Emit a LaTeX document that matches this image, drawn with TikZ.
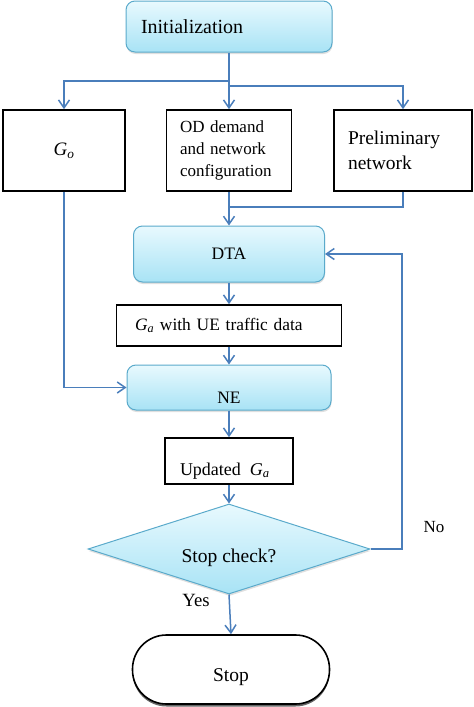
\documentclass[tikz,border=0pt]{standalone}
\usepackage{fontspec}
\setmainfont{Liberation Serif}
\usetikzlibrary{arrows.meta,shapes.geometric,shadows}
\definecolor{lineblue}{HTML}{4A7EBB}
\definecolor{cyanborder}{HTML}{5AAACB}
\definecolor{cyantop}{HTML}{E8F9FE}
\definecolor{cyanbot}{HTML}{A8E3F5}
\newcommand{\Gsub}[1]{\textit{G}\textsubscript{\textit{#1}}}
\begin{document}
\begin{tikzpicture}[x=1pt,y=-1pt,
  cyanbox/.style={draw=cyanborder, line width=1pt, rounded corners=9pt, top color=cyantop, bottom color=cyanbot, inner sep=0pt,
    drop shadow={opacity=0.25, shadow xshift=0.5pt, shadow yshift=-2pt}},
  plainbox/.style={draw=black, line width=1.6pt, fill=white, inner sep=0pt},
  arr/.style={draw=lineblue, line width=1.5pt, -{Straight Barb[length=8pt,width=11pt]}},
  ln/.style={draw=lineblue, line width=1.5pt},
  lbl/.style={inner sep=0pt}]
\useasboundingbox (0,0) rectangle (474,707);
% nodes
\node[cyanbox, minimum width=206pt, minimum height=51pt, text width=176pt, align=left,
  font=\fontsize{20}{24}\selectfont] (init) at (229,26.5) {Initialization};
\node[plainbox, minimum width=122pt, minimum height=81pt, font=\fontsize{19}{22}\selectfont] (go) at (64,150.5)
  {\Gsub{o}};
\node[plainbox, minimum width=125pt, minimum height=81pt, text width=98pt, align=left,
  font=\fontsize{17}{22}\selectfont] (od) at (229,150.5)
  {OD demand\\and network\\configuration};
\node[plainbox, minimum width=138pt, minimum height=81pt, text width=110pt, align=left,
  font=\fontsize{19.5}{25}\selectfont] (pre) at (403,150.5)
  {Preliminary\\network};
\node[cyanbox, minimum width=191pt, minimum height=56pt, font=\fontsize{17.5}{21}\selectfont] (dta) at (229,254)
  {DTA};
\node[plainbox, minimum width=225pt, minimum height=41pt, text width=188pt, align=left,
  font=\fontsize{17.4}{21}\selectfont] (ga) at (229,325.5)
  {\Gsub{a} with UE traffic data};
\node[cyanbox, minimum width=204pt, minimum height=45pt, text height=31pt, text depth=0pt,
  font=\fontsize{17.5}{21}\selectfont] (ne) at (229,387.5) {NE};
\node[plainbox, minimum width=128pt, minimum height=46pt, text width=98pt, align=left, text height=28pt, text depth=0pt,
  font=\fontsize{18}{22}\selectfont] (upd) at (229,461) {Updated \,\Gsub{a}};
\node[diamond, aspect=3.13, draw=cyanborder, line width=1pt, top color=cyantop, bottom color=cyanbot, inner sep=0pt,
  minimum width=282pt, minimum height=90pt, text height=27pt, text depth=0pt,
  font=\fontsize{19.5}{23}\selectfont,
  drop shadow={opacity=0.25, shadow xshift=0.5pt, shadow yshift=-2pt}] (dec) at (229,549) {Stop check?};
\node[draw=black, line width=1.6pt, fill=white, rounded corners=34pt, inner sep=0pt,
  minimum width=197pt, minimum height=69pt, text height=24pt, text depth=0pt,
  font=\fontsize{19.5}{23}\selectfont,
  drop shadow={fill=black, opacity=0.6, shadow xshift=0pt, shadow yshift=-2.5pt}] (stop) at (231,669.5) {Stop};
\node[lbl, font=\fontsize{18.7}{22}\selectfont] (yes) at (196,600) {Yes};
\node[lbl, font=\fontsize{17}{21}\selectfont] (no) at (434,527) {No};
% junctions
\coordinate (j1) at (229,81);
\coordinate (j2) at (229,86);
\coordinate (j3) at (229,207);
\coordinate (fb) at (402,549);
% connectors
\draw[ln] (init.south) -- (j2);
\draw[arr] (j1) -| (go.north);
\draw[arr] (j2) -- (od.north);
\draw[arr] (j2) -| (pre.north);
\draw[arr] (od.south) -- (dta.north);
\draw[ln] (pre.south) |- (j3);
\draw[arr] (go.south) |- (ne.west);
\draw[arr] (dta.south) -- (ga.north);
\draw[arr] (ga.south) -- (ne.north);
\draw[arr] (ne.south) -- (upd.north);
\draw[arr] (upd.south) -- (dec.north);
\draw[arr] (dec.south) -- (stop.north);
\draw[arr] (dec.east) -- (fb) |- (dta.east);
\end{tikzpicture}
\end{document}
